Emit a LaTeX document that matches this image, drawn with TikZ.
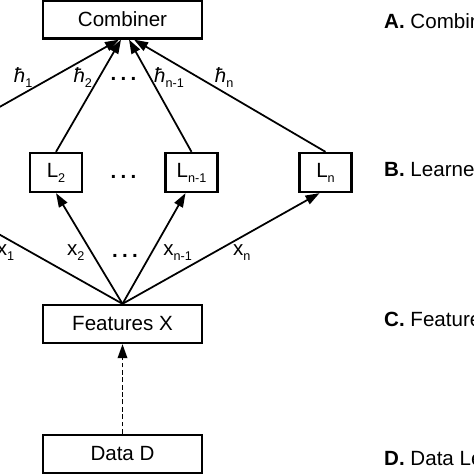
\documentclass[tikz,border=0pt]{standalone}
\usepackage{fontspec}
\setmainfont{Liberation Sans}
\usepackage{tikz}
\usetikzlibrary{arrows.meta}
\newcommand{\gapdots}{\textbf{.\hspace{2.4pt}.\hspace{2.4pt}.}}
\newcommand{\lowsub}[1]{\raisebox{-.45ex}{\fontsize{7.2pt}{8pt}\selectfont #1}}
\tikzset{blk/.style={draw,line width=1.3pt,minimum width=3.18cm,minimum height=.76cm,inner sep=0pt},
         lrn/.style={blk,minimum width=1.04cm,minimum height=.78cm},
         arr/.style={-{Triangle[length=2.8mm,width=1.9mm]},line width=1pt},
         elab/.style={inner sep=0pt},
         lvl/.style={anchor=base west}}

\begin{document}
\begin{tikzpicture}[font=\fontsize{11.7pt}{14pt}\selectfont]
  \path[use as bounding box,clip] (0,0) rectangle (9.48,9.48);
  \node[blk] (comb) at (2.45,9.09) {Combiner};
  \node[lrn] (l1) at (-1.6,6.03) {};
  \node[lrn] (l2) at (1.12,6.03) {L\lowsub{2}};
  \node[lrn] (lm) at (3.83,6.03) {L\lowsub{n-1}};
  \node[lrn] (ln) at (6.51,6.03) {L\lowsub{n}};
  \node[blk] (feat) at (2.45,3.0) {Features X};
  \node[blk] (data) at (2.45,.40) {Data D};
  \node[anchor=base] (hdots) at (2.47,7.86) {\gapdots};
  \node[anchor=base] (ldots) at (2.47,5.90) {\gapdots};
  \node[anchor=base] (xdots) at (2.50,4.33) {\gapdots};
  % learners -> combiner
  \draw[arr] (l1.north) -- node[elab,pos=.66,left=3.6mm]{\textit{ħ}\lowsub{1}} ([xshift=-.07cm]comb.south);
  \draw[arr] (l2.north) -- node[elab,pos=.66,left=1.2mm]{\textit{ħ}\lowsub{2}} ([xshift=-.03cm]comb.south);
  \draw[arr] (lm.north) -- node[elab,pos=.66,right=.6mm]{\textit{ħ}\lowsub{n-1}} ([xshift=.13cm]comb.south);
  \draw[arr] (ln.north) -- node[elab,pos=.66,right=3mm]{\textit{ħ}\lowsub{n}} ([xshift=.23cm]comb.south);
  % features -> learners
  \draw[arr] (feat.north) -- node[elab,pos=.46,left=3.4mm]{x\lowsub{1}} ([xshift=.12cm]l1.south);
  \draw[arr] (feat.north) -- node[elab,pos=.46,left=1.3mm]{x\lowsub{2}} (l2.south);
  \draw[arr] (feat.north) -- node[elab,pos=.46,right=2.2mm]{x\lowsub{n-1}} ([xshift=-.12cm]lm.south);
  \draw[arr] (feat.north) -- node[elab,pos=.46,right=3.8mm]{x\lowsub{n}} ([xshift=-.12cm]ln.south);
  \draw[arr,dash pattern=on 2.8pt off 1.4pt] (data.north) -- (feat.south);
  % levels
  \node[lvl] (lvla) at (7.56,8.91) {\textbf{A.} Combiner Level};
  \node[lvl] (lvlb) at (7.56,5.94) {\textbf{B.} Learners Level};
  \node[lvl] (lvlc) at (7.56,2.94) {\textbf{C.} Features Level};
  \node[lvl] (lvld) at (7.56,.16) {\textbf{D.} Data Level};
\end{tikzpicture}
\end{document}
